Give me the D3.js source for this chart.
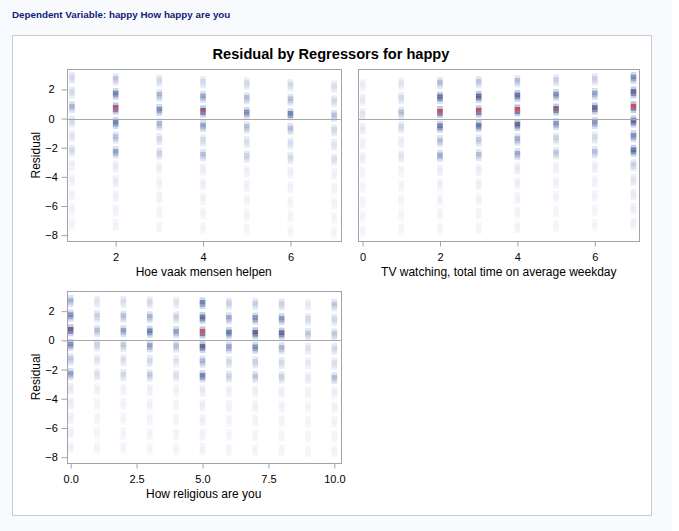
<!DOCTYPE html>
<html>
<head>
<meta charset="utf-8">
<script src="https://cdn.jsdelivr.net/npm/d3@7"></script>
<style>
  body { margin: 0; background: #fff; font-family: Arial, "Liberation Sans", sans-serif; }
</style>
</head>
<body>
<svg id="chart" width="679" height="531"></svg>
<script>
// residual clusters: one per happy score (10 .. 0), center = top - k
const helpX = [1, 2, 3, 4, 5, 6, 7];
const helpTop = [2.8, 2.7, 2.6, 2.5, 2.4, 2.3, 2.2];
const helpDens = [
  [0.3, 0.3, 0.5, 0.3, 0.2, 0.3, 0.1, 0.1, 0.08, 0.08, 0.06],
  [0.4, 0.75, 0.97, 0.75, 0.45, 0.6, 0.15, 0.15, 0.1, 0.08, 0.06],
  [0.3, 0.5, 0.7, 0.5, 0.3, 0.35, 0.1, 0.08, 0.08, 0.06, 0.05],
  [0.3, 0.6, 0.95, 0.6, 0.3, 0.45, 0.12, 0.1, 0.08, 0.06, 0.05],
  [0.3, 0.45, 0.7, 0.45, 0.25, 0.35, 0.1, 0.08, 0.06, 0.06, 0.05],
  [0.3, 0.45, 0.75, 0.45, 0.25, 0.3, 0.1, 0.08, 0.06, 0.06, 0.05],
  [0.25, 0.3, 0.45, 0.3, 0.2, 0.25, 0.08, 0.06, 0.06, 0.05, 0.05]
];

const tvX = [0, 1, 2, 3, 4, 5, 6, 7];
const tvTop = [2.3, 2.4, 2.45, 2.5, 2.57, 2.63, 2.7, 2.8];
const tvDens = [
  [0.12, 0.15, 0.2, 0.15, 0.08, 0.12, 0.05, 0.05, 0.05, 0.05, 0.05],
  [0.2, 0.3, 0.45, 0.3, 0.12, 0.2, 0.06, 0.05, 0.05, 0.05, 0.05],
  [0.45, 0.85, 0.98, 0.8, 0.45, 0.55, 0.12, 0.1, 0.08, 0.06, 0.06],
  [0.4, 0.9, 0.98, 0.8, 0.4, 0.45, 0.12, 0.1, 0.08, 0.06, 0.06],
  [0.45, 0.85, 0.98, 0.88, 0.55, 0.55, 0.15, 0.1, 0.08, 0.06, 0.06],
  [0.35, 0.7, 0.93, 0.65, 0.35, 0.4, 0.1, 0.08, 0.06, 0.05, 0.05],
  [0.35, 0.6, 0.9, 0.65, 0.3, 0.45, 0.12, 0.08, 0.06, 0.05, 0.05],
  [0.7, 0.9, 1.0, 0.9, 0.7, 0.85, 0.35, 0.2, 0.15, 0.12, 0.1]
];

const relX = [0, 1, 2, 3, 4, 5, 6, 7, 8, 9, 10];
const relTop = [2.7, 2.66, 2.64, 2.6, 2.58, 2.55, 2.52, 2.5, 2.47, 2.44, 2.42];
const relDens = [
  [0.5, 0.7, 0.92, 0.7, 0.4, 0.6, 0.15, 0.12, 0.1, 0.08, 0.08],
  [0.2, 0.35, 0.45, 0.35, 0.2, 0.25, 0.08, 0.06, 0.05, 0.05, 0.05],
  [0.25, 0.45, 0.6, 0.4, 0.25, 0.3, 0.08, 0.06, 0.05, 0.05, 0.05],
  [0.3, 0.5, 0.78, 0.6, 0.3, 0.4, 0.1, 0.08, 0.06, 0.05, 0.05],
  [0.2, 0.35, 0.6, 0.45, 0.2, 0.25, 0.08, 0.06, 0.05, 0.05, 0.05],
  [0.75, 0.85, 1.0, 0.88, 0.5, 0.75, 0.15, 0.12, 0.1, 0.08, 0.08],
  [0.35, 0.55, 0.8, 0.6, 0.3, 0.35, 0.1, 0.08, 0.06, 0.05, 0.05],
  [0.35, 0.7, 0.9, 0.7, 0.35, 0.4, 0.1, 0.08, 0.06, 0.05, 0.05],
  [0.35, 0.65, 0.88, 0.5, 0.3, 0.35, 0.1, 0.08, 0.06, 0.05, 0.05],
  [0.15, 0.3, 0.4, 0.2, 0.15, 0.15, 0.06, 0.05, 0.05, 0.04, 0.04],
  [0.4, 0.3, 0.4, 0.3, 0.25, 0.45, 0.1, 0.08, 0.06, 0.05, 0.06]
];

const yTicks = [2, 0, -2, -4, -6, -8];

const svg = d3.select("#chart");

// page + box
svg.append("rect").attr("x", 0).attr("y", 0).attr("width", 672).attr("height", 531).attr("fill", "#f9fafe");
svg.append("rect").attr("x", 12.5).attr("y", 35.5).attr("width", 639).attr("height", 480)
  .attr("fill", "#fff").attr("stroke", "#c9ccd3");

svg.append("text").attr("x", 12).attr("y", 17.5)
  .attr("fill", "#112277").attr("font-weight", "bold").attr("font-size", 9.8)
  .text("Dependent Variable: happy How happy are you");

svg.append("text").attr("x", 331).attr("y", 59).attr("text-anchor", "middle")
  .attr("font-weight", "bold").attr("font-size", 14.6)
  .text("Residual by Regressors for happy");

const color = d3.scaleLinear()
  .domain([0, 0.3, 0.6, 0.82, 0.9, 0.96])
  .range(["#f9f9fd", "#d0d7e8", "#8d9fc6", "#5d76a8", "#6b5f8e", "#d4505e"])
  .clamp(true);

// sub-cells inside each cluster (spread of residuals)
const offs = [-0.32, -0.16, 0, 0.16, 0.32];
const wts = [0.35, 0.75, 1, 0.95, 0.4];

function panel(o) {
  const x = d3.scaleLinear().domain(o.xDomain).range([o.left, o.right]);
  const y = d3.scaleLinear().domain([-8.4, 3.38]).range([o.bottom, o.top]);
  const g = svg.append("g");

  const cells = [];
  o.xs.forEach((xv, i) => {
    o.dens[i].forEach((v, k) => {
      const c = o.tops[i] - k;
      offs.forEach((d, j) => cells.push({ xv, r: c + d, v: v * wts[j] }));
    });
  });

  const ch = Math.abs(y(0) - y(0.16));
  g.selectAll("rect.cell").data(cells).join("rect")
    .attr("class", "cell")
    .attr("x", (d) => x(d.xv) - 2.8)
    .attr("y", (d) => y(d.r) - ch / 2)
    .attr("width", 5.6)
    .attr("height", ch + 0.3)
    .attr("fill", (d) => color(d.v));

  // zero reference line
  g.append("line")
    .attr("x1", o.left).attr("x2", o.right)
    .attr("y1", Math.round(y(0)) + 0.5).attr("y2", Math.round(y(0)) + 0.5)
    .attr("stroke", "#a8a8a8");

  g.append("rect")
    .attr("x", Math.round(o.left) + 0.5).attr("y", Math.round(o.top) + 0.5)
    .attr("width", Math.round(o.right - o.left)).attr("height", Math.round(o.bottom - o.top))
    .attr("fill", "none").attr("stroke", "#a0a3a8");

  // x axis
  const xa = g.append("g").attr("transform", `translate(0, ${Math.round(o.bottom) + 0.5})`)
    .call(d3.axisBottom(x).tickValues(o.xTicks).tickFormat(o.fmt).tickSize(5).tickSizeOuter(0));
  xa.select(".domain").remove();
  xa.selectAll("line").attr("stroke", "#a0a3a8");
  xa.selectAll("text").attr("font-size", 11).attr("font-family", "Arial, 'Liberation Sans', sans-serif").attr("fill", "#000").attr("dy", "1.05em");

  g.append("text").attr("x", (o.left + o.right) / 2).attr("y", o.bottom + 35)
    .attr("text-anchor", "middle").attr("font-size", 12).text(o.xLabel);

  if (o.yAxis) {
    const ya = g.append("g").attr("transform", `translate(${Math.round(o.left) + 0.5}, 0)`)
      .call(d3.axisLeft(y).tickValues(yTicks).tickFormat(d3.format("d")).tickSize(6).tickSizeOuter(0));
    ya.select(".domain").remove();
    ya.selectAll("line").attr("stroke", "#a0a3a8");
    ya.selectAll("text").attr("font-size", 11).attr("font-family", "Arial, 'Liberation Sans', sans-serif")
      .attr("fill", "#000").attr("text-anchor", "middle").attr("x", -16);

    g.append("text")
      .attr("transform", `translate(40, ${(o.top + o.bottom) / 2}) rotate(-90)`)
      .attr("text-anchor", "middle").attr("font-size", 12).text("Residual");
  }
}

panel({
  xs: helpX, tops: helpTop, dens: helpDens,
  xDomain: [0.88, 7.15], left: 66.7, right: 340.7, top: 69.3, bottom: 241,
  xTicks: [2, 4, 6], fmt: d3.format("d"), xLabel: "Hoe vaak mensen helpen", yAxis: true
});
panel({
  xs: tvX, tops: tvTop, dens: tvDens,
  xDomain: [-0.11, 7.15], left: 358.3, right: 639.3, top: 69.3, bottom: 241,
  xTicks: [0, 2, 4, 6], fmt: d3.format("d"), xLabel: "TV watching, total time on average weekday", yAxis: false
});
panel({
  xs: relX, tops: relTop, dens: relDens,
  xDomain: [-0.15, 10.24], left: 66.7, right: 340.7, top: 291, bottom: 463,
  xTicks: [0, 2.5, 5, 7.5, 10], fmt: d3.format(".1f"), xLabel: "How religious are you", yAxis: true
});
</script>
</body>
</html>
